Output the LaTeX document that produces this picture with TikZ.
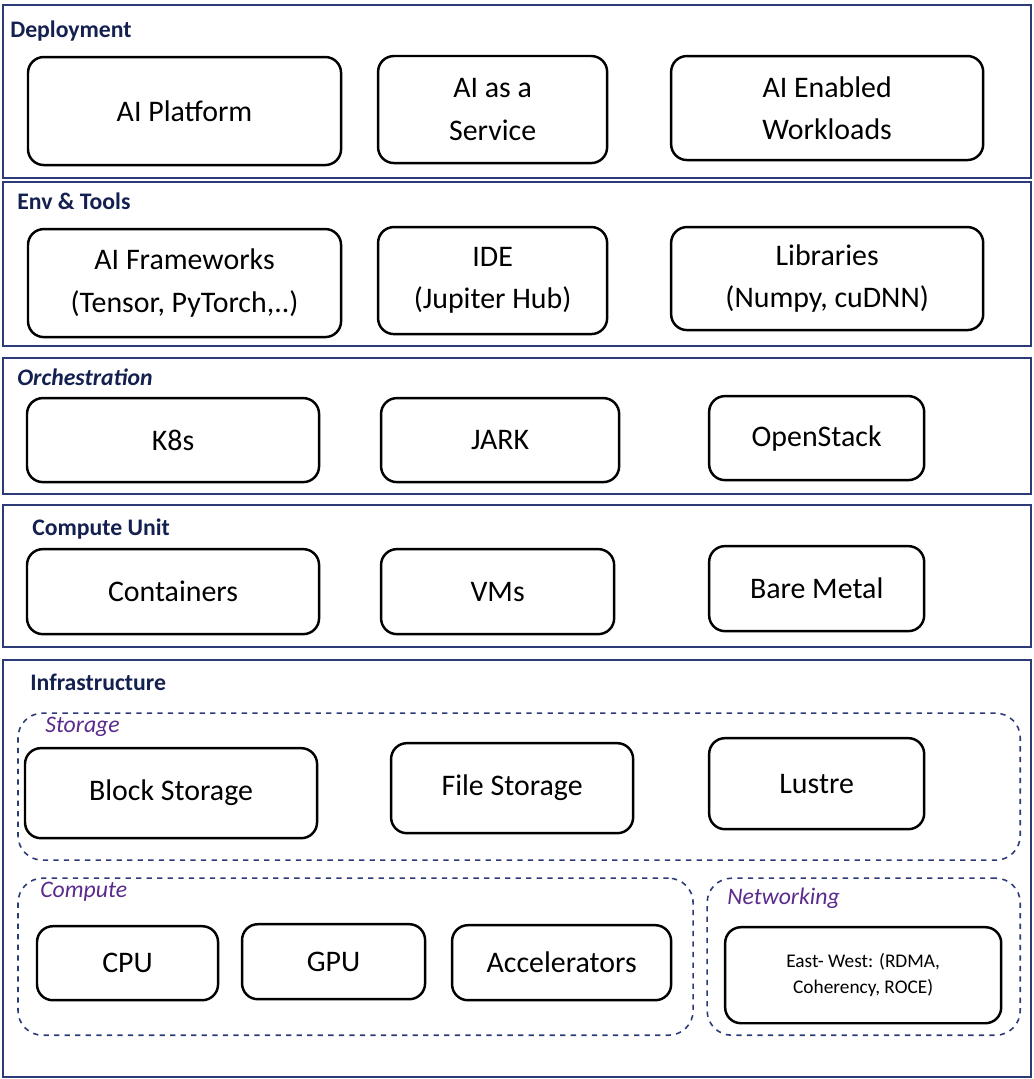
\documentclass[tikz,border=0pt]{standalone}
\usepackage{fontspec}
\setmainfont{Carlito}
\definecolor{navy}{HTML}{14204F}
\definecolor{frame}{HTML}{2C3A78}
\definecolor{purp}{HTML}{5A2A8C}
\tikzset{
 box/.style={draw=black,line width=1.4pt,rounded corners=9pt,inner sep=0pt,outer sep=0pt,align=center,font=\fontsize{17}{24}\selectfont},
 layer/.style={draw=frame,line width=0.9pt,inner sep=0pt},
 grp/.style={draw=frame,line width=0.9pt,dashed,rounded corners=14pt,inner sep=0pt},
 head/.style={anchor=west,inner sep=0pt,text=navy,font=\fontsize{13.5}{15}\selectfont\bfseries},
 sub/.style={anchor=west,inner sep=0pt,text=purp,font=\fontsize{13.5}{15}\selectfont\itshape},
}
\newcommand\Bx[7][box]{\node[#1,minimum width={(#5-#3)*0.02cm},minimum height={(#6-#4)*0.02cm}] (#2) at ({(#3+#5)/2*0.02},{-(#4+#6)/2*0.02}) {#7};}
\begin{document}
\begin{tikzpicture}
\useasboundingbox (0,0) rectangle (20.68,-21.58);
\Bx[layer]{L1}{3}{5}{1031}{178}{}
\Bx[layer]{L2}{3}{182}{1031}{346}{}
\Bx[layer]{L3}{3}{358}{1031}{494}{}
\Bx[layer]{L4}{3}{505}{1031}{647}{}
\Bx[layer]{L5}{3}{660}{1031}{1077}{}
\node[head] (h1) at (0.2,-0.62) {Deployment};
\node[head] (h2) at (0.34,-4.02) {Env \& Tools};
\node[head,font=\fontsize{13.5}{15}\selectfont\bfseries\itshape] (h3) at (0.34,-7.54) {Orchestration};
\node[head] (h4) at (0.64,-10.58) {Compute Unit};
\node[head] (h5) at (0.6,-13.64) {Infrastructure};
\Bx{a1}{28}{57}{341}{165}{AI Platform}
\Bx{a2}{378}{56}{607}{163}{AI as a\\Service}
\Bx{a3}{671}{56}{983}{160}{AI Enabled\\Workloads}
\Bx{b1}{28}{229}{341}{337}{AI Frameworks\\(Tensor, PyTorch,..)}
\Bx{b2}{378}{227}{607}{334}{IDE\\(Jupiter Hub)}
\Bx{b3}{671}{227}{983}{330}{Libraries\\(Numpy, cuDNN)}
\Bx{c1}{27}{398}{319}{482}{K8s}
\Bx{c2}{381}{398}{619}{482}{JARK}
\Bx{c3}{709}{396}{924}{480}{OpenStack}
\Bx{d1}{27}{549}{319}{634}{Containers}
\Bx{d2}{381}{549}{614}{634}{VMs}
\Bx{d3}{709}{546}{924}{631}{Bare Metal}
\Bx[grp]{g1}{18}{713}{1020}{860}{}
\Bx[grp]{g2}{18}{878}{693}{1035}{}
\Bx[grp]{g3}{707}{878}{1020}{1035}{}
\node[sub] (s1) at (0.9,-14.54) {Storage};
\node[sub] (s2) at (0.8,-17.84) {Compute};
\node[sub] (s3) at (14.54,-17.96) {Networking};
\Bx{e1}{25}{748}{317}{838}{Block Storage}
\Bx{e2}{391}{743}{633}{833}{File Storage}
\Bx{e3}{709}{738}{924}{829}{Lustre}
\Bx{f1}{37}{926}{218}{1000}{CPU}
\Bx{f2}{242}{924}{425}{999}{GPU}
\Bx{f3}{452}{925}{671}{1000}{Accelerators}
\Bx[box,font=\fontsize{11}{15}\selectfont]{n1}{725}{927}{1001}{1023}{East- West: (RDMA,\\Coherency, ROCE)}
\end{tikzpicture}
\end{document}
